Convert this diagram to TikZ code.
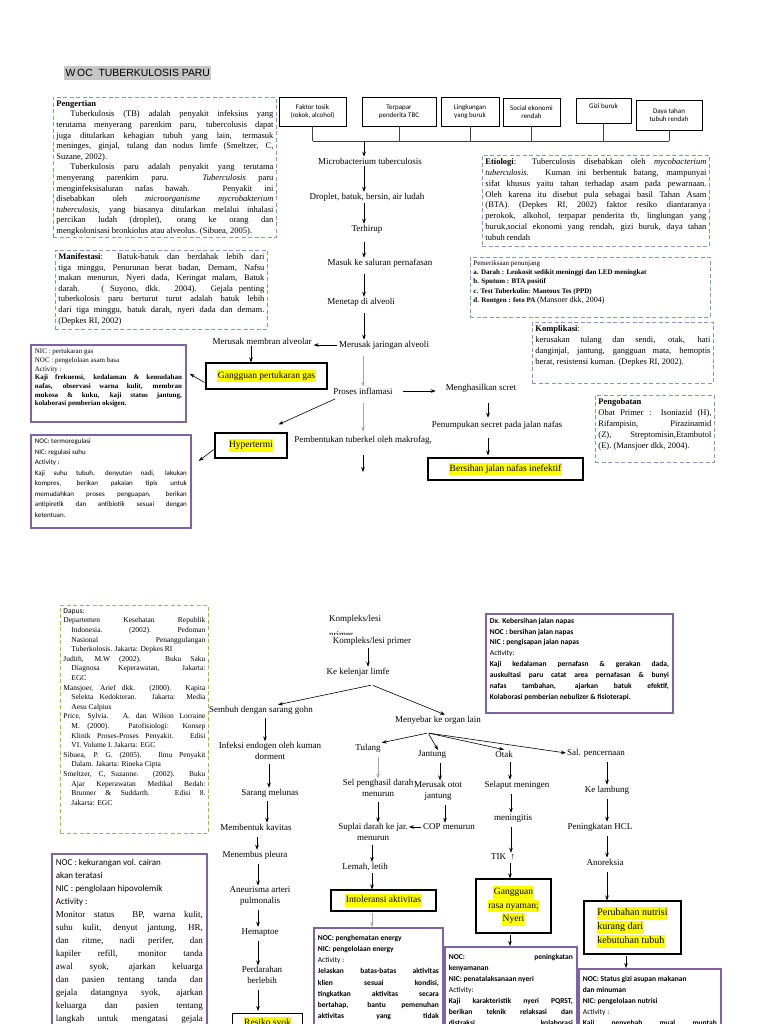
\documentclass[tikz,border=0pt]{standalone}
\usepackage{fontspec}
\setmainfont{Liberation Serif}
\newfontfamily\calib{Carlito}
\newfontfamily\arialf{Liberation Sans}
\usetikzlibrary{arrows.meta}
\definecolor{dashblue}{HTML}{7D9BC5}
\definecolor{purp}{HTML}{8064A2}
\definecolor{dgreen}{HTML}{9BBB59}
\definecolor{hly}{HTML}{FFFF00}
\definecolor{tgray}{HTML}{C6C6C6}
\tolerance=10000 \hbadness=10000 \vbadness=10000 \hfuzz=3pt
\newcommand{\yhl}[1]{{\setlength{\fboxsep}{0.5pt}\colorbox{hly}{\strut #1}}}
\newcommand{\hg}{\hangindent=8pt\hangafter=1\relax}
\newcommand{\vArr}[4][]{\draw[arr,#1] (#2.south -| x#4) -- (#3.north -| x#4);}
\begin{document}
\begin{tikzpicture}[x=1pt,y=-1pt,
  arr/.style={-{Stealth[length=5pt,width=3.6pt]}, line width=0.6pt, shorten <=1pt},
  garr/.style={arr, draw=gray!70},
  lbl/.style={font=\fontsize{9}{10.5}\selectfont, align=center, inner sep=1pt},
  fbox/.style={draw, line width=0.9pt, font=\calib\fontsize{7}{8}\selectfont, align=center, inner sep=1pt},
  dbox/.style={draw=dashblue, dash pattern=on 4pt off 2.5pt, line width=0.9pt, inner sep=3pt, anchor=north west},
  gbox/.style={draw=dgreen, dash pattern=on 4pt off 2.5pt, line width=0.9pt, inner sep=3pt, anchor=north west},
  pbox/.style={draw=purp, line width=1.8pt, inner sep=4pt, anchor=north west},
  kbox/.style={draw, line width=1.1pt, inner sep=1pt, font=\fontsize{9.5}{11.5}\selectfont, align=center}]
\useasboundingbox (0,0) rectangle (768,1024);
\clip (0,0) rectangle (768,1024);
\fill[white] (0,0) rectangle (768,1024);
\foreach \v in {251,257,258,265,267,269,363,364,368,372,378,440,445,488,510,511,607,626} {\coordinate (x\v) at (\v,0);}

% title
\node[anchor=north west, fill=tgray, inner xsep=1.5pt, inner ysep=2pt, minimum height=14pt, font=\arialf\fontsize{10.4}{12}\selectfont] (title) at (64,66) {W\,OC\ \ TUBERKULOSIS PARU};

% ---------- left text boxes ----------
\node[dbox, font=\fontsize{8.5}{10.6}\selectfont] (peng) at (53,97) {\parbox[c][134pt][t]{217pt}{\textbf{Pengertian}\par
\hspace*{14pt}Tuberkulosis (TB) adalah penyakit infeksius yang\linebreak terutama menyerang parenkim paru, tubercolusis dapat\linebreak juga ditularkan kebagian tubuh yang lain, termasuk\linebreak meninges, ginjal, tulang dan nodus limfe (Smeltzer, C,\linebreak Suzane, 2002).\par
\hspace*{14pt}Tuberkulosis paru adalah penyakit yang terutama\linebreak menyerang parenkim paru. \textit{Tuberculosis} paru\linebreak menginfeksisaluran nafas bawah. Penyakit ini\linebreak disebabkan oleh \textit{microorganisme mycrobakterium}\linebreak \textit{tuberculosis}, yang biasanya ditularkan melalui inhalasi\linebreak percikan ludah (droplet), orang ke orang dan\linebreak mengkolonisasi bronkiolus atau alveolus. (Sibuea, 2005).}};

\node[dbox, font=\fontsize{8.5}{10.6}\selectfont] (man) at (55,250) {\parbox[c][73pt][t]{206pt}{\textbf{Manifestasi}: Batuk-batuk dan berdahak lebih dari\linebreak tiga minggu, Penurunan berat badan, Demam, Nafsu\linebreak makan menurun, Nyeri dada, Keringat malam, Batuk\linebreak darah.\hspace{22pt}( Suyono, dkk. 2004). Gejala penting\linebreak tuberkolosis paru berturut turut adalah batuk lebih\linebreak dari tiga minggu, batuk darah, nyeri dada dan demam.\linebreak (Depkes RI, 2002)}};

\node[pbox, font=\fontsize{7}{8.7}\selectfont] (nic1) at (30,344) {\parbox[c][69pt][t]{147pt}{NIC : pertukaran gas\\NOC : pengelolaan asam basa\\Activity :\\\textbf{Kaji frekuensi, kedalaman \& kemudahan\linebreak nafas, observasi warna kulit, membran\linebreak mukosa \& kuku, kaji status jantung,\linebreak kolaborasi pemberian oksigen.}}};

\node[pbox, font=\calib\fontsize{7}{10.5}\selectfont] (nic2) at (30,434) {\parbox[c][85pt][t]{152pt}{NOC: termoregulasi\\NIC: regulasi suhu\\Activity :\\Kaji suhu tubuh, denyutan nadi, lakukan\linebreak kompres, berikan pakaian tipis untuk\linebreak memudahkan proses penguapan, berikan\linebreak antipiretik dan antibiotik sesuai dengan\linebreak ketentuan.}};

% ---------- right text boxes ----------
\node[dbox, font=\fontsize{8.5}{10.9}\selectfont] (eti) at (482,155) {\parbox[c][85pt][t]{221pt}{\textbf{Etiologi}: Tuberculosis disebabkan oleh \textit{mycobacterium}\linebreak \textit{tuberculosis}. Kuman ini berbentuk batang, mampunyai\linebreak sifat khusus yaitu tahan terhadap asam pada pewarnaan.\linebreak Oleh karena itu disebut pula sebagai basil Tahan Asam\linebreak (BTA). (Depkes RI, 2002) faktor resiko diantaranya\linebreak perokok, alkohol, terpapar penderita tb, linglungan yang\linebreak buruk,social ekonomi yang rendah, gizi buruk, daya tahan\linebreak tubuh rendah}};

\node[dbox, font=\fontsize{7}{9.3}\selectfont] (pmk) at (470,257) {\parbox[c][54pt][t]{234pt}{{\fontsize{7}{9.3}\selectfont Pemeriksaan penunjang}\\\textbf{a. Darah : Leukosit sedikit meninggi dan LED meningkat}\\\textbf{b. Sputum : BTA positif}\\\textbf{c. Test Tuberkulin: Mantoux Tes (PPD)}\\\textbf{d. Rontgen : foto PA} {\fontsize{8}{9.3}\selectfont(Mansoer dkk, 2004)}}};

\node[dbox, font=\fontsize{8.5}{11}\selectfont] (kmp) at (532,322) {\parbox[c][55pt][t]{175pt}{\textbf{Komplikasi}:\par kerusakan tulang dan sendi, otak, hati\linebreak danginjal, jantung, gangguan mata, hemoptis\linebreak berat, resistensi kuman. (Depkes RI, 2002).}};

\node[dbox, font=\fontsize{8.5}{11}\selectfont] (pgb) at (595,395) {\parbox[c][61pt][t]{113pt}{\textbf{Pengobatan}\par Obat Primer : Isoniazid (H),\linebreak Rifampisin, Pirazinamid\linebreak (Z), Streptomisin,Etambutol\linebreak (E). (Mansjoer dkk, 2004).}};

% ---------- factor boxes ----------
\node[fbox, minimum width=67pt, minimum height=29pt] (f1) at (312.5,111.5) {Faktor tosik\\(rokok, alcohol)};
\node[fbox, minimum width=74pt, minimum height=29pt] (f2) at (399,111.5) {Terpapar\\penderita TBC};
\node[fbox, minimum width=58pt, minimum height=29pt] (f3) at (470,111.5) {Lingkungan\\yang buruk};
\node[fbox, minimum width=57pt, minimum height=28pt] (f4) at (531.5,112) {Social ekonomi\\rendah};
\node[fbox, minimum width=55pt, minimum height=25pt] (f5) at (603.5,110.5) {Gizi buruk\\\mbox{}};
\node[fbox, minimum width=66pt, minimum height=30pt] (f6) at (669,115) {Daya tahan\\tubuh rendah};
\coordinate (barL) at (313,141);
\draw[line width=0.8pt, black!75] (f1.south |- barL) -- (f6.south |- barL);
\foreach \f in {f1,f2,f3,f4,f5,f6} {\draw[line width=0.8pt, black!75] (\f.south) -- (\f.south |- barL);}
\coordinate (barA) at (364,141);

% ---------- main flow (top) ----------
\node[lbl] (mic) at (370,161) {Microbacterium tuberculosis};
\node[lbl] (drop) at (367,197) {Droplet, batuk, bersin, air ludah};
\node[lbl] (terh) at (367,229) {Terhirup};
\node[lbl] (masuk) at (380,263) {Masuk ke saluran pernafasan};
\node[lbl] (men) at (361,302) {Menetap di alveoli};
\node[lbl] (merj) at (384,345) {Merusak jaringan alveoli};
\node[lbl] (mem) at (262,341) {Merusak membran alveolar};
\node[kbox, minimum width=121pt, minimum height=26pt] (ggas) at (266.5,376) {\yhl{Gangguan pertukaran gas}};
\node[lbl] (pro) at (363,391) {Proses inflamasi};
\node[lbl] (mhs) at (481,388) {Menghasilkan scret};
\node[lbl] (pen) at (497,425) {Penumpukan secret pada jalan nafas};
\node[kbox, minimum width=155pt, minimum height=22pt] (bjn) at (505.5,469) {\yhl{Bersihan jalan nafas inefektif}};
\node[kbox, minimum width=72pt, minimum height=25pt] (hyp) at (251,445.5) {\yhl{Hypertermi}};
\node[lbl] (pem) at (363,440) {Pembentukan tuberkel oleh makrofag,};
\coordinate (pemend) at (363,472);

\draw[arr] (barA) -- (mic.north -| barA);
\vArr{mic}{drop}{364}
\vArr{drop}{terh}{364}
\vArr[shorten <=8pt]{terh}{masuk}{364}
\vArr[shorten <=6pt]{masuk}{men}{364}
\vArr[shorten <=6pt]{men}{merj}{364}
\draw[arr, shorten >=1pt] (merj.west) -- (mem.east |- merj.west);
\vArr{mem}{ggas}{251}
\draw[arr] ([yshift=-7pt]ggas.west) -- ([xshift=3pt,yshift=9.5pt]nic1.east);
\vArr[garr, shorten <=6pt]{merj}{pro}{363}
\draw[arr, shorten <=9pt, shorten >=9pt] (pro.east) -- (mhs.west |- pro.east);
\vArr[shorten <=10pt, shorten >=2pt]{mhs}{pen}{488}
\vArr[shorten <=8pt, shorten >=2pt]{pen}{bjn}{488}
\draw[arr] ([xshift=4pt,yshift=-3pt]pro.south west) -- ([xshift=-9pt,yshift=8pt]hyp.north east);
\draw[arr] ([yshift=-3.5pt]hyp.west) -- ([xshift=7pt,yshift=20.5pt]nic2.east);
\vArr[garr, shorten <=8pt, shorten >=3pt]{pro}{pem}{363}
\draw[arr, shorten <=10pt] (pem.south -| x363) -- (pemend);

% ---------- lower half ----------
\node[gbox, font=\fontsize{7.5}{9.6}\selectfont] (dap) at (60,605) {\parbox[c][222pt][t]{142pt}{{\calib Dapus:}\par
\hg Departemen Kesehatan Republik\linebreak Indonesia. (2002). Pedoman\linebreak Nasional Penanggulangan\linebreak Tuberkolosis. Jakarta: Depkes RI\par
\hg Judith, M.W (2002). Buku Saku\linebreak Diagnosa Keperawatan, Jakarta:\linebreak EGC\par
\hg Mansjoer, Arief dkk. (2000). Kapita\linebreak Selekta Kedokteran. Jakarta: Media\linebreak Aesu Calpius\par
\hg Price, Sylvia. A. dan Wilson Lorraine\linebreak M. (2000). Patofisiologi: Konsep\linebreak Klinik Proses-Proses Penyakit. Edisi\linebreak VI. Volume I. Jakarta: EGC\par
\hg Sibuea, P. G. (2005). Ilmu Penyakit\linebreak Dalam. Jakarta: Rineka Cipta\par
\hg Smeltzer, C, Suzanne. (2002). Buku\linebreak Ajar Keperawatan Medikal Bedah:\linebreak Brunner \& Suddarth. Edisi 8.\linebreak Jakarta: EGC}};

\node[pbox, font=\calib\fontsize{7.5}{10.9}\selectfont] (dx) at (485,613) {\parbox[c][91pt][t]{179pt}{\textbf{Dx. Kebersihan jalan napas}\\\textbf{NOC : bersihan jalan napas}\\\textbf{NIC : pengisapan jalan napas}\\Activity:\\\textbf{Kaji kedalaman pernafasn \& gerakan dada,\linebreak auskultasi paru catat area pernafasan \& bunyi\linebreak nafas tambahan, ajarkan batuk efektif,\linebreak Kolaborasi pemberian nebulizer \& fisioterapi.}}};

\node[pbox, font=\calib\fontsize{9}{13}\selectfont] (noc6) at (51,853) {\parbox[c][200pt][t]{147pt}{\vspace*{1pt}NOC : kekurangan vol. cairan\\akan teratasi\\NIC : penglolaan hipovolemik\\Activity :\\{\rmfamily Monitor status\ \ BP, warna kulit,\linebreak suhu kulit, denyut jantung, HR,\linebreak dan ritme, nadi perifer, dan\linebreak kapiler refill, monitor tanda\linebreak awal syok, ajarkan keluarga\linebreak dan pasien tentang tanda dan\linebreak gejala datangnya syok, ajarkan\linebreak keluarga dan pasien tentang\linebreak langkah untuk mengatasi gejala\linebreak\mbox{}}}};

\node[lbl, anchor=base west] (kl1) at (328,621) {Kompleks/lesi};
\begin{scope}
\clip (320,624) rectangle (370,634.5);
\node[lbl, anchor=base west] (kl1b) at (328,637) {primer};
\end{scope}
\node[lbl] (kl2) at (372,641) {Kompleks/lesi primer};
\node[lbl] (kel) at (358,672) {Ke kelenjar limfe};
\coordinate (sp1) at (372,685);
\node[lbl] (smb) at (261,710) {Sembuh dengan sarang gohn};
\node[lbl] (mny) at (438,720) {Menyebar ke organ lain};
\node[lbl] (inf) at (270,751) {Infeksi endogen oleh kuman\\dorment};
\node[lbl] (sar) at (270,793) {Sarang melunas};
\node[lbl] (mbk) at (256,827) {Membentuk kavitas};
\node[lbl] (mpl) at (255,855) {Menembus pleura};
\node[lbl] (ane) at (260,896) {Aneurisma arteri\\pulmonalis};
\node[lbl] (hem) at (260,932) {Hemaptoe};
\node[lbl] (prd) at (262,975) {Perdarahan\\berlebih};
\node[kbox, anchor=north west, inner xsep=3pt, inner ysep=3pt, minimum width=70pt] (rsk) at (232,1013) {\yhl{Resiko syok}\\[6pt]\mbox{}};

\coordinate (sp2) at (428,733);
\node[lbl] (tul) at (368,748) {Tulang};
\node[lbl] (jan) at (432,755) {Jantung};
\node[lbl] (otk) at (504,754) {Otak};
\node[lbl] (sal) at (596,753) {Sal. pencernaan};
\node[lbl] (sph) at (378,788) {Sel penghasil darah\\menurun};
\node[lbl] (sup) at (373,832) {Suplai darah ke jar.\\menurun};
\node[lbl] (mro) at (438,791) {Merusak otot\\jantung};
\node[lbl] (cop) at (449,827) {COP menurun};
\node[lbl] (lem) at (365,867) {Lemah, letih};
\node[kbox, minimum width=105pt, minimum height=21pt] (int) at (383.5,900.5) {\yhl{Intoleransi aktivitas}};
\node[pbox, font=\calib\fontsize{7.5}{11.1}\selectfont] (noc3) at (313,927) {\parbox[c][122pt][t]{121pt}{\vspace*{3.5pt}\textbf{NOC: penghematan energy}\\\textbf{NIC: pengelolaan energy}\\Activity :\\\textbf{Jelaskan batas-batas aktivitas\linebreak klien sesuai kondisi,\linebreak tingkatkan aktivitas secara\linebreak bertahap, bantu pemenuhan\linebreak aktivitas yang tidak\linebreak\mbox{}}}};

\node[lbl] (sel) at (517,785) {Selaput meningen};
\node[lbl] (mng) at (513,818) {meningitis};
\node[lbl] (tik) at (503,857) {TIK\ \ ↑};
\node[kbox, minimum width=75pt, minimum height=54pt] (grn) at (513.5,906) {\yhl{Gangguan}\\\yhl{rasa nyaman;}\\\yhl{Nyeri}};
\node[pbox, font=\calib\fontsize{7.5}{11}\selectfont] (noc4) at (444,946) {\parbox[c][100pt][t]{124pt}{\vspace*{3.5pt}\textbf{NOC: peningkatan\linebreak kenyamanan}\\\textbf{NIC: penatalaksanaan nyeri}\\Activity:\\\textbf{Kaji karakteristik nyeri PQRST,\linebreak berikan teknik relaksasi dan\linebreak distraksi, kolaborasi\linebreak\mbox{}}}};

\node[lbl] (klb) at (607,790) {Ke lambung};
\node[lbl] (hcl) at (600,827) {Peningkatan HCL};
\node[lbl] (ano) at (605,862) {Anoreksia};
\node[kbox, minimum width=97pt, minimum height=53pt, align=left, font=\fontsize{10}{12}\selectfont] (pnt) at (632.5,927.5) {\yhl{Perubahan nutrisi}\\\yhl{kurang dari}\\\yhl{kebutuhan tubuh}};
\node[pbox, font=\calib\fontsize{7.5}{11}\selectfont] (noc5) at (578,968) {\parbox[c][80pt][t]{134pt}{\vspace*{3.5pt}\textbf{NOC: Status gizi asupan makanan}\\\textbf{dan minuman}\\\textbf{NIC: pengelolaan nutrisi}\\Activity :\\\textbf{Kaji penyebab mual muntah\linebreak\mbox{}}}};

% lower arrows
\vArr[shorten <=2pt]{kl2}{kel}{368}
\draw[arr] (sp1) -- ([xshift=17pt]smb.north);
\draw[arr] (sp1) -- ([xshift=7pt]mny.north);
\vArr[shorten <=3pt]{smb}{inf}{265}
\vArr[shorten <=3pt]{inf}{sar}{269}
\vArr[shorten <=3pt]{sar}{mbk}{267}
\vArr[shorten <=6pt]{mbk}{mpl}{257}
\vArr[shorten <=4pt]{mpl}{ane}{258}
\vArr[shorten <=4pt]{ane}{hem}{258}
\vArr[shorten <=4pt]{hem}{prd}{258}
\vArr[shorten <=5pt, shorten >=2pt]{prd}{rsk}{258}
\draw[arr] (sp2) -- (tul.north east);
\draw[arr] (sp2) -- ([xshift=6pt]jan.north);
\draw[arr] (sp2) -- (otk.north);
\draw[arr] (sp2) -- (sal.west);
\vArr[garr, shorten <=4pt]{tul}{sph}{378}
\vArr[shorten <=4pt]{sph}{sup}{378}
\vArr[shorten <=3pt]{jan}{mro}{440}
\vArr[shorten <=3pt]{mro}{cop}{445}
\draw[arr] (cop.west) -- (sup.east |- cop.west);
\vArr[shorten <=3pt]{sup}{lem}{372}
\vArr[shorten <=1pt]{lem}{int}{372}
\vArr[garr]{int}{noc3}{372}
\vArr[shorten <=4pt]{otk}{sel}{510}
\vArr[shorten <=4pt]{sel}{mng}{511}
\vArr[shorten <=4pt]{mng}{tik}{511}
\vArr[shorten <=2pt]{tik}{grn}{510}
\vArr{grn}{noc4}{510}
\vArr[shorten <=4pt]{sal}{klb}{607}
\vArr[shorten <=4pt]{klb}{hcl}{607}
\vArr[shorten <=4pt]{hcl}{ano}{607}
\vArr[shorten <=6pt]{ano}{pnt}{607}
\vArr{pnt}{noc5}{626}
\end{tikzpicture}
\end{document}
